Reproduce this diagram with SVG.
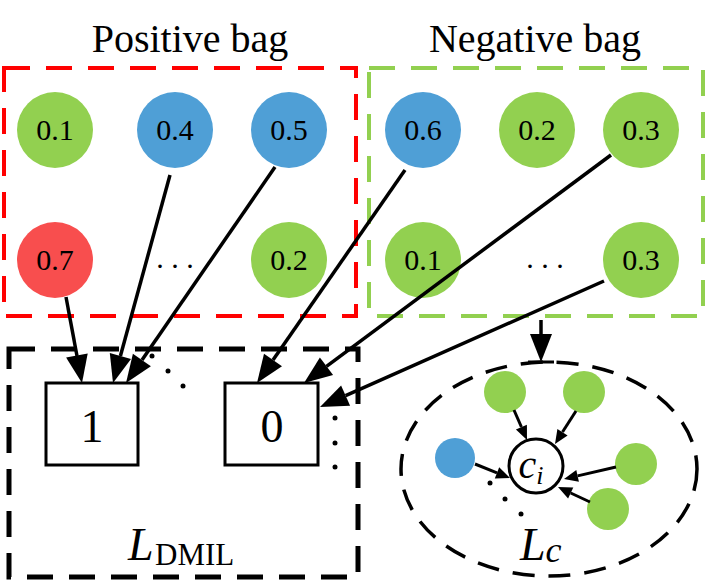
<svg xmlns="http://www.w3.org/2000/svg" width="713" height="587" viewBox="0 0 713 587">
<style>
.g{fill:#92d050}.b{fill:#4f9fd6}.r{fill:#f84e4e}
.c{stroke:#000;stroke-width:3.5;fill:none}
.cs{stroke:#000;stroke-width:3;fill:none}
.dot{fill:#000}
</style>
<rect width="713" height="587" fill="#fff"/>
<g font-family="Liberation Serif, Times New Roman, serif" fill="#000">
<text x="190" y="52" font-size="40" text-anchor="middle">Positive bag</text>
<text x="535" y="52" font-size="40" text-anchor="middle">Negative bag</text>
</g>
<rect x="4" y="68" width="352" height="248" fill="none" stroke="#f00" stroke-width="4" stroke-dasharray="26,16"/>
<rect x="369" y="68" width="334" height="248" fill="none" stroke="#92d050" stroke-width="4" stroke-dasharray="26,16"/>
<rect x="9" y="349" width="349" height="228" fill="none" stroke="#000" stroke-width="5" stroke-dasharray="26,16"/>
<ellipse cx="549" cy="469" rx="148" ry="107" fill="none" stroke="#000" stroke-width="3.5" stroke-dasharray="22,14"/>
<g font-family="Liberation Serif, Times New Roman, serif" font-size="30" text-anchor="middle" fill="#000">
<g id="p1"><circle class="g" cx="55" cy="130" r="38"/><text x="55" y="140">0.1</text></g>
<g id="p2"><circle class="b" cx="175" cy="130" r="38"/><text x="175" y="140">0.4</text></g>
<g id="p3"><circle class="b" cx="289" cy="130" r="38"/><text x="289" y="140">0.5</text></g>
<g id="p4"><circle class="r" cx="55" cy="260" r="38"/><text x="55" y="270">0.7</text></g>
<g id="p5"><circle class="g" cx="289" cy="260" r="38"/><text x="289" y="270">0.2</text></g>
<g id="n1"><circle class="b" cx="423" cy="130" r="38"/><text x="423" y="140">0.6</text></g>
<g id="n2"><circle class="g" cx="537" cy="130" r="38"/><text x="537" y="140">0.2</text></g>
<g id="n3"><circle class="g" cx="641" cy="130" r="38"/><text x="641" y="140">0.3</text></g>
<g id="n4"><circle class="g" cx="423" cy="260" r="38"/><text x="423" y="270">0.1</text></g>
<g id="n5"><circle class="g" cx="641" cy="260" r="38"/><text x="641" y="270">0.3</text></g>
<text x="175" y="268">. . .</text>
<text x="545" y="268">. . .</text>
<g id="b1"><rect x="46" y="383" width="92" height="82" fill="#fff" stroke="#000" stroke-width="3"/><text x="92" y="442" font-size="46">1</text></g>
<g id="b0"><rect x="225" y="383" width="93" height="82" fill="#fff" stroke="#000" stroke-width="3"/><text x="272" y="442" font-size="46">0</text></g>
</g>
<g id="s1"><circle class="b" cx="455" cy="458" r="20"/></g>
<g id="s2"><circle class="g" cx="505" cy="392" r="21"/></g>
<g id="s3"><circle class="g" cx="584" cy="392" r="21"/></g>
<g id="s4"><circle class="g" cx="636" cy="464" r="21"/></g>
<g id="s5"><circle class="g" cx="608" cy="509" r="21"/></g>
<g id="ci"><circle cx="536" cy="466" r="27" fill="#fff" stroke="#000" stroke-width="3"/><text x="531" y="478" font-family="Liberation Serif, Times New Roman, serif" font-size="40" font-style="italic" text-anchor="middle" fill="#000">c<tspan font-size="26" dy="6">i</tspan></text></g>
<circle class="dot" cx="152" cy="356" r="2.5"/><circle class="dot" cx="168" cy="371" r="2.5"/><circle class="dot" cx="183" cy="386" r="2.5"/>
<circle class="dot" cx="335" cy="418" r="2.5"/><circle class="dot" cx="335" cy="443" r="2.5"/><circle class="dot" cx="335" cy="467" r="2.5"/>
<circle class="dot" cx="490" cy="483" r="2.5"/><circle class="dot" cx="505" cy="499" r="2.5"/><circle class="dot" cx="521" cy="514" r="2.5"/>
<g font-family="Liberation Serif, Times New Roman, serif" fill="#000">
<text x="128" y="560" font-size="46" font-style="italic">L</text><text x="155" y="565" font-size="31">DMIL</text>
<text x="520" y="560" font-size="46" font-style="italic">L<tspan font-size="36" dy="2">c</tspan></text>
</g>
<g id="connectors">
<line class="c" x1="66" y1="297" x2="77" y2="356"/><polygon points="82,383 66.1,357.5 87.7,353.5"/>
<line class="c" x1="170" y1="175" x2="120.4" y2="356"/><polygon points="113,383 109.8,353.1 131,358.9"/>
<line class="c" x1="275" y1="167" x2="142" y2="360"/><polygon points="126,383 132.9,353.8 150.9,366.2"/>
<line class="c" x1="405" y1="170" x2="273" y2="360"/><polygon points="257,383 264,353.7 282,366.3"/>
<line class="c" x1="611" y1="155" x2="326.5" y2="366.3"/><polygon points="304,383 319.9,357.5 333.1,375.1"/>
<line class="c" x1="604" y1="281" x2="345.6" y2="395.6"/><polygon points="320,407 341.1,385.5 350.1,405.7"/>
<line class="c" x1="541" y1="320" x2="541" y2="335"/><polygon points="541,362 530,334 552,334"/>
<line x1="528" y1="362" x2="554" y2="362" stroke="#000" stroke-width="3"/>
<line class="cs" x1="514" y1="410" x2="521.4" y2="427"/><polygon points="527,440 515.9,429.5 526.9,424.7"/>
<line class="cs" x1="576" y1="411" x2="562.5" y2="432"/><polygon points="555,444 557.4,429 567.6,435.4"/>
<line class="cs" x1="475" y1="464" x2="497" y2="472.8"/><polygon points="510,478 494.8,478.4 499.2,467.2"/>
<line class="cs" x1="616" y1="467" x2="577.6" y2="475.9"/><polygon points="564,479 576.3,470.1 578.9,481.7"/>
<line class="cs" x1="590" y1="502" x2="570.7" y2="493"/><polygon points="558,487 573.3,487.6 568.1,498.4"/>
</g>
</svg>
